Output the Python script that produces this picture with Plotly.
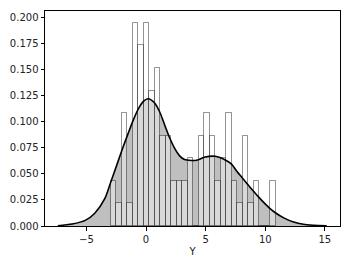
import plotly.graph_objects as go

# ---- data ----
bin_left = -2.95
bin_width = 0.461
counts = [2, 1, 5, 1, 9, 8, 9, 6, 7, 4, 4, 2, 2, 2, 3,
          0, 4, 5, 4, 2, 3, 5, 2, 1, 4, 1, 2, 0, 0, 2]

kde_x = [-7.4, -6.2, -5.1, -4.3, -3.45, -2.95, -2.47, -2.0, -1.5, -1.08,
         -0.6, -0.2, 0.17, 0.72, 1.13, 1.55, 1.97, 2.38, 2.8, 3.22,
         3.78, 4.33, 4.88, 5.8, 6.72, 7.17, 7.63, 8.13, 8.78, 9.47,
         9.97, 10.38, 10.88, 11.55, 12.38, 13.2, 14.03, 15.15]
kde_y = [0.0003, 0.0019, 0.0054, 0.0123, 0.0265, 0.0425, 0.058, 0.0735, 0.089, 0.1015,
         0.1135, 0.1200, 0.1223, 0.1182, 0.110, 0.0976, 0.085, 0.075, 0.0676, 0.0638,
         0.063, 0.0635, 0.066, 0.067, 0.063, 0.0595, 0.0524, 0.0455, 0.0365, 0.0275,
         0.0215, 0.017, 0.0125, 0.0078, 0.0038, 0.0016, 0.0007, 0.0002]

x_ticks = [-5, 0, 5, 10, 15]
y_ticks = [0.0, 0.025, 0.05, 0.075, 0.1, 0.125, 0.15, 0.175, 0.2]
x_label = "Y"

total = sum(counts)
centers = [bin_left + bin_width * (i + 0.5) for i in range(len(counts))]
density = [c / (total * bin_width) for c in counts]

XR = [-8.475, 16.27]
YR = [0, 0.2066]
FONT = dict(family="DejaVu Sans", size=10, color="#222222")

fig = go.Figure()
# KDE shade (main axes, underneath)
fig.add_trace(go.Scatter(x=kde_x, y=kde_y, mode="lines",
                         line=dict(width=0, shape="spline", smoothing=0.8),
                         fill="tozeroy", fillcolor="rgba(0,0,0,0.25)",
                         hoverinfo="skip", showlegend=False))
# Histogram bars (overlay axes, above shade)
fig.add_trace(go.Bar(x=centers, y=density, width=bin_width,
                     marker=dict(color="rgba(255,255,255,0.4)",
                                 line=dict(color="rgba(0,0,0,0.42)", width=1)),
                     xaxis="x2", yaxis="y2", showlegend=False))
# KDE line on top
fig.add_trace(go.Scatter(x=kde_x, y=kde_y, mode="lines",
                         line=dict(color="black", width=1.6, shape="spline", smoothing=0.8),
                         xaxis="x2", yaxis="y2", showlegend=False))

axis_common = dict(showgrid=False, zeroline=False, showline=True, linecolor="black",
                   linewidth=1, mirror=True, ticks="outside", ticklen=3.5,
                   tickwidth=1, tickcolor="black", tickfont=FONT)

fig.update_layout(
    width=351, height=266,
    margin=dict(l=43, r=11, t=10, b=38),
    paper_bgcolor="white", plot_bgcolor="white",
    bargap=0,
    font=FONT,
    xaxis=dict(range=XR, tickvals=x_ticks, title=dict(text=x_label, font=FONT, standoff=4),
               **axis_common),
    yaxis=dict(range=YR, tickvals=y_ticks, tickformat=".3f", **axis_common),
    xaxis2=dict(range=XR, overlaying="x", visible=False),
    yaxis2=dict(range=YR, overlaying="y", visible=False),
)

fig.write_html("out.html")
